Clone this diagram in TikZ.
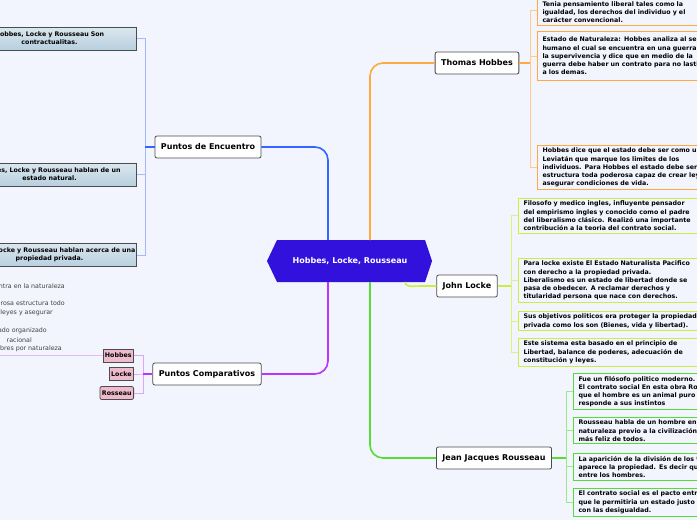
\documentclass[tikz,border=0pt]{standalone}
\usepackage{fontspec}
\setmainfont{DejaVu Sans}
\definecolor{bg}{HTML}{F2F5FE}
\definecolor{hub}{HTML}{3311DD}
\definecolor{orng}{HTML}{FFA940}
\definecolor{ylw}{HTML}{CCEE44}
\definecolor{grn}{HTML}{55DD33}
\definecolor{blu}{HTML}{3366FF}
\definecolor{pur}{HTML}{BB33FF}
\definecolor{pink}{HTML}{EEBBCC}
\definecolor{bluebox}{HTML}{B8CFDF}
\tikzset{
 x=1pt,y=-1pt,
 topic/.style={draw=black!70,line width=0.8pt,rounded corners=2pt,fill=white,font=\fontsize{8}{9}\selectfont\bfseries,inner xsep=6pt,minimum height=22pt},
 leaf/.style={draw=#1,line width=1pt,fill=bg,font=\fontsize{6.3}{8.3}\selectfont\bfseries,align=left,text width=190pt,anchor=north west,inner xsep=5pt,inner ysep=2.5pt},
 bbox/.style={draw=black!70,line width=1pt,top color=bluebox!50,bottom color=bluebox,font=\fontsize{6.3}{8.2}\selectfont\bfseries,align=center,text width=172pt,minimum height=23pt,inner sep=1pt},
 pbox/.style={draw=black!70,line width=0.8pt,fill=pink,font=\fontsize{6.3}{7}\selectfont\bfseries,minimum height=13pt,inner sep=2pt,anchor=east},
 gtext/.style={font=\fontsize{6.3}{7}\selectfont,text=black!75,anchor=east,inner sep=0pt},
}
\begin{document}
\begin{tikzpicture}
\fill[bg] (0,0) rectangle (697,520);
\clip (0,0) rectangle (697,520);
% hub
\fill[hub] (267,261) -- (277,240) -- (425,240) -- (432,261) -- (425,282) -- (277,282) -- cycle;
\node[text=white,font=\fontsize{8}{9}\selectfont\bfseries] (hub) at (350,261) {Hobbes, Locke, Rousseau};
% topics
\node[topic] (pe) at (208,147) {Puntos de Encuentro};
\node[topic] (pc) at (207,374) {Puntos Comparativos};
\node[topic] (th) at (477,63) {Thomas Hobbes};
\node[topic] (jl) at (467,286) {John Locke};
\node[topic] (jr) at (494,458) {Jean Jacques Rousseau};
% main connectors
\coordinate (hT1) at (328,240); \coordinate (hB1) at (328,282);
\coordinate (hT2) at (370,240); \coordinate (hB2) at (370,282);
\draw[blu,line width=1.6pt] (hT1) -- (328,160) to[out=90,in=0] (315,147) -- (pe.east);
\draw[pur,line width=1.6pt] (hB1) -- (328,361) to[out=-90,in=0] (315,374) -- (pc.east);
\draw[orng,line width=1.6pt] (hT2) -- (370,76) to[out=90,in=180] (383,63) -- (th.west);
\draw[ylw,line width=1.6pt] (405,282) to[out=-90,in=180] (420,286) -- (jl.west);
\draw[grn,line width=1.6pt] (hB2) -- (370,445) to[out=-90,in=180] (383,458) -- (jr.west);
% Hobbes leaves
\node[leaf=orng] (h1) at (537,-5) {\\Tenia pensamiento liberal tales como la\\igualdad, los derechos del individuo y el\\carácter convencional.};
\node[leaf=orng,minimum height=49pt] (h2) at (537,31) {Estado de Naturaleza: Hobbes analiza al ser\\humano el cual se encuentra en una guerra por\\la supervivencia y dice que en medio de la\\guerra debe haber un contrato para no lastimar\\a los demas.};
\node[leaf=orng] (h3) at (537,145) {Hobbes dice que el estado debe ser como un\\Leviatán que marque los limites de los\\individuos. Para Hobbes el estado debe ser una\\estructura toda poderosa capaz de crear leyes y\\asegurar condiciones de vida.};
\foreach \n in {h1,h2,h3}{\draw[orng!60,line width=0.8pt] (th.east) -- (530,63) |- (\n.west);}
\draw[orng,line width=1.4pt] (th.east) -- (530,63);
% Locke leaves
\node[leaf=ylw] (l1) at (518,198) {Filosofo y medico ingles, influyente pensador\\del empirismo ingles y conocido como el padre\\del liberalismo clásico. Realizó una importante\\contribución a la teoria del contrato social.};
\node[leaf=ylw] (l2) at (518,258) {Para locke existe El Estado Naturalista Pacifico\\con derecho a la propiedad privada.\\Liberalismo es un estado de libertad donde se\\pasa de obedecer. A reclamar derechos y\\titularidad persona que nace con derechos.};
\node[leaf=ylw] (l3) at (518,311) {Sus objetivos politicos era proteger la propiedad\\privada como los son (Bienes, vida y libertad).};
\node[leaf=ylw] (l4) at (518,338) {Este sistema esta basado en el principio de\\Libertad, balance de poderes, adecuación de\\constitución y leyes.};
\foreach \n in {l1,l2,l3,l4}{\draw[ylw!70,line width=0.8pt] (jl.east) -- (511,286) |- (\n.west);}
\draw[ylw,line width=1.4pt] (jl.east) -- (511,286);
% Rousseau leaves
\node[leaf=grn] (r1) at (573,373) {Fue un filósofo politico moderno. Su obra\\El contrato social En esta obra Rousseau dice\\que el hombre es un animal puro que solo\\responde a sus instintos};
\node[leaf=grn] (r2) at (573,417) {Rousseau habla de un hombre en estado de\\naturaleza previo a la civilización como el\\más feliz de todos.};
\node[leaf=grn] (r3) at (573,453) {La aparición de la división de los trabajos\\aparece la propiedad. Es decir que surge\\entre los hombres.};
\node[leaf=grn] (r4) at (573,488) {El contrato social es el pacto entre hombres\\que le permitiria un estado justo en relación\\con las desigualdad.};
\foreach \n in {r1,r2,r3,r4}{\draw[grn!60,line width=0.8pt] (jr.east) -- (566,458) |- (\n.west);}
\draw[grn,line width=1.4pt] (jr.east) -- (566,458);
% Encuentro leaves
\node[bbox,anchor=east] (e1) at (137,38.5) {Hobbes, Locke  y Rousseau Son\\contractualitas.};
\node[bbox,anchor=east] (e2) at (137,174.5) {Hobbes, Locke  y Rousseau hablan de un\\estado natural.};
\node[bbox,anchor=east] (e3) at (137,255) {Hobbes, Locke  y Rousseau hablan acerca de una\\propiedad privada.};
\foreach \n in {e1,e2,e3}{\draw[blu!45,line width=0.8pt] (pe.west) -- (145,147) |- (\n.east);}
\draw[blu,line width=1.4pt] (pe.west) -- (145,147);
% Comparativos leaves
\node[pbox] (p1) at (134,355.5) {Hobbes};
\node[pbox] (p2) at (134,374) {Locke};
\node[pbox,rounded corners=2pt] (p3) at (134,393) {Rosseau};
\foreach \n in {p1,p2,p3}{\draw[pur!45,line width=0.8pt] (pc.west) -- (143,374) |- (\n.east);}
\draw[pur,line width=1.4pt] (pc.west) -- (143,374);
\coordinate (pfree) at (0,355.5);
\draw[pur!35,line width=0.8pt] (p1.west) -- (pfree);
% gray fragments
\node[gtext] (g1) at (65,286) {humano se encuentra en la naturaleza};
\node[gtext] (g2) at (65,304) {poderosa estructura todo};
\node[gtext] (g3) at (53,313) {crear leyes y asegurar};
\node[gtext] (g4) at (47,331) {estado organizado};
\node[gtext] (g5) at (32,340) {racional};
\node[gtext] (g6) at (62,349) {libres por naturaleza};
\end{tikzpicture}
\end{document}
